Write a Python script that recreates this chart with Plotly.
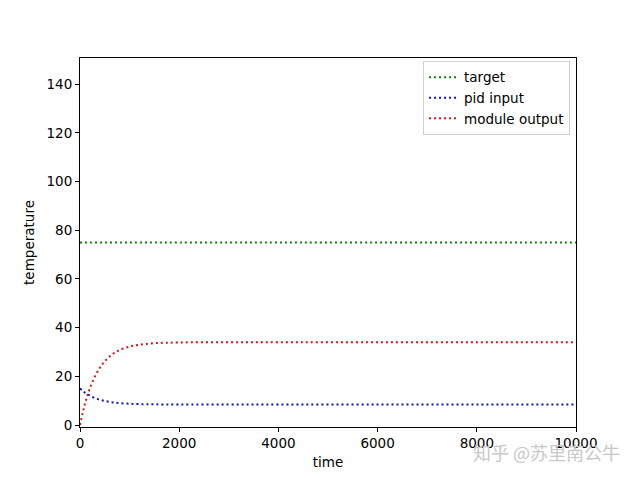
import plotly.graph_objects as go

time = [0, 50, 100, 150, 200, 300, 400, 500, 600, 700, 800, 1000, 1200, 1500, 2000, 3000, 4000, 6000, 8000, 10000]
target = [75] * len(time)
pid_input = [15.0, 14.1, 13.3, 12.7, 12.1, 11.1, 10.4, 9.9, 9.5, 9.2, 9.0, 8.75, 8.6, 8.5, 8.45, 8.4, 8.4, 8.4, 8.4, 8.4]
module_output = [0.0, 4.6, 8.7, 12.1, 15.1, 19.9, 23.5, 26.2, 28.2, 29.7, 30.8, 32.2, 33.0, 33.6, 33.9, 34.0, 34.0, 34.0, 34.0, 34.0]
x_ticks = [0, 2000, 4000, 6000, 8000, 10000]
y_ticks = [0, 20, 40, 60, 80, 100, 120, 140]

series = [
    ("target", target, "#118011"),
    ("pid input", pid_input, "#1212c0"),
    ("module output", module_output, "#cc1818"),
]

fig = go.Figure()
for name, vals, col in series:
    fig.add_trace(go.Scatter(x=time, y=vals, mode="lines", name=name,
                             line=dict(color=col, width=2, dash="2px,3px", shape="spline")))

axis_common = dict(showline=True, linecolor="black", linewidth=1, mirror=True,
                   ticks="outside", ticklen=4, tickcolor="black", showgrid=False,
                   zeroline=False, tickfont=dict(size=13.5, color="black"))

fig.update_layout(
    width=640, height=480,
    paper_bgcolor="white", plot_bgcolor="white",
    margin=dict(l=72, r=72, t=50, b=61),
    font=dict(family="DejaVu Sans", size=13.5, color="black"),
    xaxis=dict(range=[0, 10000], tickvals=x_ticks, ticktext=[str(v) for v in x_ticks],
               title=dict(text="time", standoff=7, font=dict(size=13.5)), **axis_common),
    yaxis=dict(range=[-0.8, 150.7], tickvals=y_ticks,
               title=dict(text="temperature", standoff=8, font=dict(size=13.5)), **axis_common),
    legend=dict(x=0.988, y=0.992, xanchor="right", yanchor="top",
                bordercolor="#d0d0d0", borderwidth=1, bgcolor="rgba(255,255,255,0.8)",
                font=dict(size=13.5), tracegroupgap=0, itemwidth=30),
    showlegend=True,
)

fig.add_annotation(text="知乎 @苏里南公牛", x=1.0, y=0.0, xref="paper", yref="paper",
                   xanchor="center", yanchor="middle", xshift=-30, yshift=-25,
                   showarrow=False, font=dict(family="Noto Sans CJK SC", size=18, color="#c8c8c8"))

fig.write_html("out.html")
